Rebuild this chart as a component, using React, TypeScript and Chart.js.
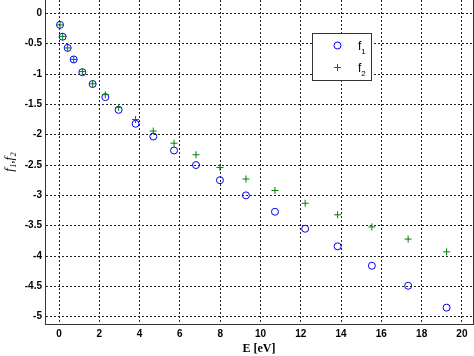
import React, { useEffect, useRef } from "react";
import { Chart, registerables } from "chart.js";

Chart.register(...registerables);

const energies = [0.05, 0.18, 0.43, 0.73, 1.16, 1.67, 2.3, 2.96, 3.8, 4.68, 5.71, 6.8, 7.99, 9.28, 10.72, 12.22, 13.83, 15.53, 17.33, 19.24];
const f1Values = [-0.19, -0.385, -0.57, -0.76, -0.97, -1.165, -1.38, -1.59, -1.82, -2.03, -2.26, -2.5, -2.75, -3.0, -3.27, -3.55, -3.84, -4.16, -4.49, -4.85];
const f2Values = [-0.19, -0.38, -0.57, -0.76, -0.96, -1.16, -1.34, -1.55, -1.75, -1.94, -2.14, -2.33, -2.54, -2.73, -2.92, -3.13, -3.32, -3.52, -3.72, -3.93];
const xTickValues = [0, 2, 4, 6, 8, 10, 12, 14, 16, 18, 20];
const xTickLabels = ["0", "2", "4", "6", "8", "10", "12", "14", "16", "18", "20"];
const yTickValues = [0, -0.5, -1, -1.5, -2, -2.5, -3, -3.5, -4, -4.5, -5];
const yTickLabels = ["0", "-0.5", "-1", "-1.5", "-2", "-2.5", "-3", "-3.5", "-4", "-4.5", "-5"];
const seriesNames = ["f1", "f2"];

const BLUE = "#0000ee";
const GREEN = "#008000";
const GRID = "#222222";
const AXIS = "#333333";
const TICK_FONT = { family: "'Liberation Sans', Arial, sans-serif", size: 10, weight: "bold" as const };

const zeroPadding = (axis: any) => {
  axis.paddingTop = 0;
  axis.paddingBottom = 0;
  axis.paddingLeft = 0;
  axis.paddingRight = 0;
};

const frameAndLegend = {
  id: "frameAndLegend",
  afterDraw(chart: any) {
    const { ctx, chartArea } = chart;
    ctx.save();
    ctx.strokeStyle = AXIS;
    ctx.lineWidth = 1;
    ctx.setLineDash([]);
    ctx.beginPath();
    ctx.moveTo(Math.round(chartArea.right) + 0.5, chartArea.top);
    ctx.lineTo(Math.round(chartArea.right) + 0.5, chartArea.bottom);
    ctx.stroke();

    const bx = 312.5, by = 33.5, bw = 59, bh = 47;
    ctx.fillStyle = "#ffffff";
    ctx.fillRect(bx, by, bw, bh);
    ctx.strokeStyle = "#333333";
    ctx.strokeRect(bx, by, bw, bh);

    const rows = [
      { y: 45.5, color: BLUE, style: "circle", name: seriesNames[0] },
      { y: 67.5, color: GREEN, style: "cross", name: seriesNames[1] },
    ];
    rows.forEach((r) => {
      ctx.strokeStyle = r.color;
      ctx.lineWidth = 1;
      const mx = 337.5;
      if (r.style === "circle") {
        ctx.beginPath();
        ctx.arc(mx, r.y, 3.5, 0, Math.PI * 2);
        ctx.stroke();
      } else {
        ctx.beginPath();
        ctx.moveTo(mx - 3.5, r.y);
        ctx.lineTo(mx + 3.5, r.y);
        ctx.moveTo(mx, r.y - 3.5);
        ctx.lineTo(mx, r.y + 3.5);
        ctx.stroke();
      }
      ctx.fillStyle = "#000000";
      ctx.textBaseline = "alphabetic";
      ctx.textAlign = "left";
      ctx.font = "12px 'Liberation Sans', Arial, sans-serif";
      const base = r.name.charAt(0);
      const sub = r.name.slice(1);
      ctx.fillText(base, 358, r.y + 4);
      const w = ctx.measureText(base).width;
      ctx.font = "8px 'Liberation Sans', Arial, sans-serif";
      ctx.fillText(sub, 358 + w, r.y + 8);
    });
    ctx.restore();
  },
};

export default function App() {
  const canvasRef = useRef<HTMLCanvasElement | null>(null);

  useEffect(() => {
    if (!canvasRef.current) return;
    const chart = new Chart(canvasRef.current, {
      type: "scatter",
      data: {
        datasets: [
          {
            label: seriesNames[0],
            data: energies.map((x, i) => ({ x, y: f1Values[i] })),
            pointStyle: "circle",
            pointRadius: 3.5,
            pointBorderWidth: 1,
            borderColor: BLUE,
            backgroundColor: "rgba(0,0,0,0)",
            order: 1,
          },
          {
            label: seriesNames[1],
            data: energies.map((x, i) => ({ x, y: f2Values[i] })),
            pointStyle: "cross",
            pointRadius: 3.5,
            pointBorderWidth: 1,
            borderColor: GREEN,
            backgroundColor: GREEN,
            order: 0,
          },
        ],
      },
      options: {
        animation: false,
        responsive: false,
        layout: { autoPadding: false, padding: { left: 0, right: 1, top: 0, bottom: 0 } },
        plugins: {
          legend: { display: false },
          tooltip: { enabled: false },
        },
        scales: {
          x: {
            type: "linear",
            min: -0.695,
            max: 20.55,
            afterBuildTicks: (axis: any) => {
              axis.ticks = xTickValues.map((v) => ({ value: v }));
            },
            afterFit: (axis: any) => {
              axis.height = 32;
              zeroPadding(axis);
            },
            ticks: {
              color: "#000",
              font: TICK_FONT,
              padding: 4,
              maxRotation: 0,
              autoSkip: false,
              callback: (_v: any, i: number) => xTickLabels[i],
            },
            grid: { color: GRID, lineWidth: 1, drawTicks: false },
            border: { display: true, color: AXIS, width: 1, dash: [2, 2] },
            title: {
              display: true,
              text: "E [eV]",
              color: "#000",
              font: { family: "'Liberation Serif', 'Times New Roman', serif", size: 12, weight: "bold" },
              padding: { top: 0, bottom: 0 },
            },
          },
          y: {
            type: "linear",
            min: -5.12,
            max: 0.22,
            afterBuildTicks: (axis: any) => {
              axis.ticks = yTickValues.map((v) => ({ value: v }));
            },
            afterFit: (axis: any) => {
              axis.width = 45;
              zeroPadding(axis);
            },
            ticks: {
              color: "#000",
              font: TICK_FONT,
              padding: 3,
              autoSkip: false,
              callback: (_v: any, i: number) => yTickLabels[i],
            },
            grid: { color: GRID, lineWidth: 1, drawTicks: false },
            border: { display: true, color: AXIS, width: 1, dash: [2, 2] },
            title: {
              display: true,
              text: "f\u2081,f\u2082",
              color: "#000",
              font: { family: "'Liberation Serif', 'DejaVu Serif', serif", size: 13, style: "italic" },
              padding: { top: 2, bottom: 0 },
            },
          },
        },
      },
      plugins: [frameAndLegend],
    } as any);
    return () => chart.destroy();
  }, []);

  return (
    <div style={{ position: "absolute", left: 0, top: 0, width: 474, height: 356, background: "#fff" }}>
      <canvas ref={canvasRef} width={474} height={356} style={{ display: "block" }} />
    </div>
  );
}
